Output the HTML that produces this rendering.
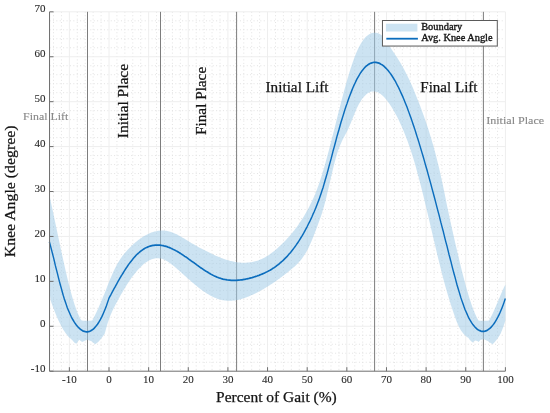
<!DOCTYPE html>
<html><head><meta charset="utf-8"><title>Knee Angle</title>
<style>html,body{margin:0;padding:0;background:#fff}body{width:550px;height:413px;overflow:hidden}</style></head>
<body>
<svg width="550" height="413" viewBox="0 0 550 413" style="display:block;font-family:'Liberation Serif',serif">
<rect width="550" height="413" fill="#fff"/>
<path d="M53.50,11.84V371.20M61.43,11.84V371.20M77.29,11.84V371.20M85.22,11.84V371.20M93.14,11.84V371.20M101.07,11.84V371.20M116.93,11.84V371.20M124.86,11.84V371.20M132.78,11.84V371.20M140.71,11.84V371.20M156.57,11.84V371.20M164.50,11.84V371.20M172.42,11.84V371.20M180.35,11.84V371.20M196.21,11.84V371.20M204.14,11.84V371.20M212.06,11.84V371.20M219.99,11.84V371.20M235.85,11.84V371.20M243.78,11.84V371.20M251.70,11.84V371.20M259.63,11.84V371.20M275.49,11.84V371.20M283.42,11.84V371.20M291.34,11.84V371.20M299.27,11.84V371.20M315.13,11.84V371.20M323.06,11.84V371.20M330.98,11.84V371.20M338.91,11.84V371.20M354.77,11.84V371.20M362.70,11.84V371.20M370.62,11.84V371.20M378.55,11.84V371.20M394.41,11.84V371.20M402.34,11.84V371.20M410.26,11.84V371.20M418.19,11.84V371.20M434.05,11.84V371.20M441.98,11.84V371.20M449.90,11.84V371.20M457.83,11.84V371.20M473.69,11.84V371.20M481.62,11.84V371.20M489.54,11.84V371.20M497.47,11.84V371.20M49.54,362.22H505.40M49.54,353.23H505.40M49.54,344.25H505.40M49.54,335.26H505.40M49.54,317.30H505.40M49.54,308.31H505.40M49.54,299.33H505.40M49.54,290.34H505.40M49.54,272.38H505.40M49.54,263.39H505.40M49.54,254.41H505.40M49.54,245.42H505.40M49.54,227.46H505.40M49.54,218.47H505.40M49.54,209.49H505.40M49.54,200.50H505.40M49.54,182.54H505.40M49.54,173.55H505.40M49.54,164.57H505.40M49.54,155.58H505.40M49.54,137.62H505.40M49.54,128.63H505.40M49.54,119.65H505.40M49.54,110.66H505.40M49.54,92.70H505.40M49.54,83.71H505.40M49.54,74.73H505.40M49.54,65.74H505.40M49.54,47.78H505.40M49.54,38.79H505.40M49.54,29.81H505.40M49.54,20.82H505.40" stroke="#e2e2e2" stroke-width="1" stroke-dasharray="1 2.4" fill="none"/>
<path d="M69.36,11.84V371.20M109.00,11.84V371.20M148.64,11.84V371.20M188.28,11.84V371.20M227.92,11.84V371.20M267.56,11.84V371.20M307.20,11.84V371.20M346.84,11.84V371.20M386.48,11.84V371.20M426.12,11.84V371.20M465.76,11.84V371.20M505.40,11.84V371.20M49.54,326.28H505.40M49.54,281.36H505.40M49.54,236.44H505.40M49.54,191.52H505.40M49.54,146.60H505.40M49.54,101.68H505.40M49.54,56.76H505.40M49.54,11.84H505.40" stroke="#eeeeee" stroke-width="1" fill="none"/>
<line x1="87.50" y1="11.84" x2="87.50" y2="371.20" stroke="#7d7d7d" stroke-width="1"/>
<line x1="160.50" y1="11.84" x2="160.50" y2="371.20" stroke="#7d7d7d" stroke-width="1"/>
<line x1="236.60" y1="11.84" x2="236.60" y2="371.20" stroke="#7d7d7d" stroke-width="1"/>
<line x1="374.60" y1="11.84" x2="374.60" y2="371.20" stroke="#7d7d7d" stroke-width="1"/>
<line x1="483.40" y1="11.84" x2="483.40" y2="371.20" stroke="#7d7d7d" stroke-width="1"/>
<polygon points="49.4,195.3 50.4,199.8 51.4,204.4 52.4,209.0 53.4,213.7 54.4,218.4 55.4,223.2 56.4,227.9 57.4,232.7 58.4,237.5 59.4,242.2 60.4,246.9 61.4,251.6 62.4,256.2 63.4,260.8 64.4,265.3 65.4,269.7 66.4,274.0 67.4,278.3 68.4,282.4 69.4,286.3 70.4,290.2 71.4,293.9 72.4,297.4 73.4,300.8 74.4,304.0 75.4,307.0 76.4,309.8 77.4,312.3 78.4,314.7 79.4,316.8 80.4,318.7 81.3,320.2 83.0,320.8 90.5,320.8 92.2,320.6 92.2,320.6 93.2,318.7 94.2,316.8 95.2,314.8 96.2,312.7 97.2,310.6 98.2,308.4 99.2,306.1 100.2,303.8 101.2,301.5 102.2,299.1 103.2,296.6 104.2,294.2 105.2,291.7 106.2,289.2 107.2,286.6 108.2,284.1 109.2,281.6 110.2,279.1 111.2,276.7 112.2,274.4 113.2,272.1 114.2,270.0 115.2,267.9 116.2,266.0 117.2,264.1 118.2,262.4 119.2,260.7 120.2,259.2 121.2,257.7 122.2,256.3 123.2,255.0 124.2,253.7 125.2,252.5 126.2,251.4 127.2,250.3 128.2,249.2 129.2,248.2 130.2,247.2 131.2,246.2 132.2,245.3 133.2,244.3 134.2,243.4 135.2,242.6 136.2,241.7 137.2,240.9 138.2,240.1 139.2,239.4 140.2,238.6 141.2,237.9 142.2,237.3 143.2,236.6 144.2,236.0 145.2,235.4 146.2,234.9 147.2,234.4 148.2,233.9 149.2,233.4 150.2,233.0 151.2,232.6 152.2,232.3 153.2,231.9 154.2,231.6 155.2,231.4 156.2,231.2 157.2,231.0 158.2,230.8 159.2,230.7 160.2,230.6 161.2,230.5 162.2,230.5 163.2,230.5 164.2,230.6 165.2,230.7 166.2,230.8 167.2,231.0 168.2,231.2 169.2,231.4 170.2,231.7 171.2,232.1 172.2,232.4 173.2,232.8 174.2,233.2 175.2,233.7 176.2,234.1 177.2,234.6 178.2,235.2 179.2,235.7 180.2,236.3 181.2,236.8 182.2,237.4 183.2,238.0 184.2,238.6 185.2,239.2 186.2,239.8 187.2,240.4 188.2,241.0 189.2,241.7 190.2,242.3 191.2,242.9 192.2,243.4 193.2,244.0 194.2,244.6 195.2,245.2 196.2,245.8 197.2,246.3 198.2,246.9 199.2,247.4 200.2,248.0 201.2,248.5 202.2,249.0 203.2,249.6 204.2,250.1 205.2,250.6 206.2,251.1 207.2,251.6 208.2,252.1 209.2,252.6 210.2,253.1 211.2,253.6 212.2,254.1 213.2,254.5 214.2,255.0 215.2,255.4 216.2,255.9 217.2,256.3 218.2,256.7 219.2,257.1 220.2,257.5 221.2,257.9 222.2,258.3 223.2,258.7 224.2,259.0 225.2,259.4 226.2,259.7 227.2,260.0 228.2,260.3 229.2,260.6 230.2,260.9 231.2,261.1 232.2,261.3 233.2,261.6 234.2,261.8 235.2,262.0 236.2,262.1 237.2,262.3 238.2,262.4 239.2,262.5 240.2,262.6 241.2,262.7 242.2,262.7 243.2,262.7 244.2,262.8 245.2,262.7 246.2,262.7 247.2,262.6 248.2,262.6 249.2,262.5 250.2,262.3 251.2,262.2 252.2,262.0 253.2,261.8 254.2,261.6 255.2,261.3 256.2,261.0 257.2,260.7 258.2,260.4 259.2,260.0 260.2,259.6 261.2,259.2 262.2,258.7 263.2,258.2 264.2,257.7 265.2,257.2 266.2,256.6 267.2,256.0 268.2,255.4 269.2,254.7 270.2,254.0 271.2,253.3 272.2,252.6 273.2,251.8 274.2,251.0 275.2,250.2 276.2,249.3 277.2,248.4 278.2,247.5 279.2,246.6 280.2,245.7 281.2,244.7 282.2,243.8 283.2,242.8 284.2,241.8 285.2,240.7 286.2,239.7 287.2,238.6 288.2,237.5 289.2,236.4 290.2,235.3 291.2,234.1 292.2,232.9 293.2,231.6 294.2,230.4 295.2,229.1 296.2,227.8 297.2,226.4 298.2,225.0 299.2,223.5 300.2,222.1 301.2,220.5 302.2,219.0 303.2,217.4 304.2,215.7 305.2,214.0 306.2,212.3 307.2,210.5 308.2,208.7 309.2,206.8 310.2,204.8 311.2,202.8 312.2,200.7 313.2,198.5 314.2,196.2 315.2,193.9 316.2,191.4 317.2,188.8 318.2,186.0 319.2,183.2 320.2,180.2 321.2,177.1 322.2,173.9 323.2,170.6 324.2,167.2 325.2,163.7 326.2,160.1 327.2,156.4 328.2,152.7 329.2,148.9 330.2,145.1 331.2,141.2 332.2,137.3 333.2,133.4 334.2,129.4 335.2,125.5 336.2,121.5 337.2,117.5 338.2,113.6 339.2,109.7 340.2,105.8 341.2,101.9 342.2,98.1 343.2,94.3 344.2,90.6 345.2,86.9 346.2,83.3 347.2,79.8 348.2,76.4 349.2,73.1 350.2,69.8 351.2,66.7 352.2,63.7 353.2,60.9 354.2,58.1 355.2,55.5 356.2,53.1 357.2,50.8 358.2,48.6 359.2,46.6 360.2,44.8 361.2,43.1 362.2,41.5 363.2,40.1 364.2,38.8 365.2,37.6 366.2,36.6 367.2,35.7 368.2,34.9 369.2,34.3 370.2,33.7 371.2,33.3 372.2,33.0 373.2,32.8 374.2,32.7 375.2,32.7 376.2,32.8 377.2,33.0 378.2,33.3 379.2,33.7 380.2,34.2 381.2,34.9 382.2,35.8 383.2,36.7 384.2,37.9 385.2,39.2 386.2,40.7 387.2,42.3 388.2,43.9 389.2,45.6 390.2,47.2 391.2,48.7 392.2,50.2 393.2,51.7 394.2,53.2 395.2,54.7 396.2,56.2 397.2,57.7 398.2,59.3 399.2,60.9 400.2,62.5 401.2,64.2 402.2,65.9 403.2,67.7 404.2,69.6 405.2,71.5 406.2,73.4 407.2,75.4 408.2,77.5 409.2,79.6 410.2,81.8 411.2,84.0 412.2,86.3 413.2,88.6 414.2,91.0 415.2,93.4 416.2,95.9 417.2,98.4 418.2,100.9 419.2,103.5 420.2,106.1 421.2,108.8 422.2,111.5 423.2,114.2 424.2,117.0 425.2,119.9 426.2,122.8 427.2,125.8 428.2,128.8 429.2,132.0 430.2,135.2 431.2,138.5 432.2,141.9 433.2,145.3 434.2,148.9 435.2,152.6 436.2,156.4 437.2,160.4 438.2,164.4 439.2,168.6 440.2,172.9 441.2,177.4 442.2,182.0 443.2,186.8 444.2,191.6 445.2,196.6 446.2,201.5 447.2,206.4 448.2,211.1 449.2,215.8 450.2,220.4 451.2,225.0 452.2,229.5 453.2,233.9 454.2,238.3 455.2,242.7 456.2,247.0 457.2,251.3 458.2,255.6 459.2,259.8 460.2,263.9 461.2,268.0 462.2,272.0 463.2,276.0 464.2,279.8 465.2,283.5 466.2,287.2 467.2,290.7 468.2,294.1 469.2,297.4 470.2,300.5 471.2,303.6 472.2,306.4 473.2,309.1 474.2,311.7 475.2,314.0 476.2,316.2 477.2,318.2 478.2,320.0 478.5,320.5 480.0,320.8 487.5,320.8 488.8,320.5 488.8,320.5 489.8,318.9 490.8,317.2 491.8,315.3 492.8,313.2 493.8,311.1 494.8,308.8 495.8,306.5 496.8,304.1 497.8,301.7 498.8,299.3 499.8,296.9 500.8,294.5 501.8,292.2 502.8,289.9 503.8,287.8 504.8,285.7 505.4,284.5 505.4,320.2 504.6,322.9 503.0,327.8 500.8,333.3 498.6,337.1 497.0,339.3 494.8,342.0 492.6,344.2 489.9,342.5 487.7,340.9 483.9,339.3 480.6,339.8 478.5,342.0 477.4,340.9 475.2,340.4 472.5,342.5 469.7,339.8 468.1,337.6 467.7,337.4 466.7,336.7 465.7,336.0 464.7,335.1 463.7,334.0 462.7,332.8 461.7,331.5 460.7,329.9 459.7,328.2 458.7,326.3 457.7,324.1 456.7,321.7 455.7,319.1 454.7,316.3 453.7,313.3 452.7,310.3 451.7,307.3 450.7,304.2 449.7,301.0 448.7,297.8 447.7,294.5 446.7,291.1 445.7,287.6 444.7,284.0 443.7,280.3 442.7,276.5 441.7,272.6 440.7,268.6 439.7,264.6 438.7,260.5 437.7,256.4 436.7,252.2 435.7,248.0 434.7,243.8 433.7,239.5 432.7,235.3 431.7,231.0 430.7,226.7 429.7,222.5 428.7,218.2 427.7,214.0 426.7,209.8 425.7,205.6 424.7,201.4 423.7,197.3 422.7,193.3 421.7,189.3 420.7,185.3 419.7,181.4 418.7,177.6 417.7,173.9 416.7,170.2 415.7,166.6 414.7,163.1 413.7,159.8 412.7,156.5 411.7,153.3 410.7,150.2 409.7,147.3 408.7,144.4 407.7,141.6 406.7,138.9 405.7,136.2 404.7,133.7 403.7,131.3 402.7,128.9 401.7,126.6 400.7,124.4 399.7,122.2 398.7,120.1 397.7,118.1 396.7,116.1 395.7,114.2 394.7,112.4 393.7,110.6 392.7,108.9 391.7,107.3 390.7,105.7 389.7,104.2 388.7,102.7 387.7,101.4 386.7,100.1 385.7,98.9 384.7,97.7 383.7,96.7 382.7,95.7 381.7,94.9 380.7,94.1 379.7,93.4 378.7,92.8 377.7,92.3 376.7,91.9 375.7,91.7 374.7,91.5 373.7,91.4 372.7,91.4 371.7,91.6 370.7,91.8 369.7,92.2 368.7,92.7 367.7,93.3 366.7,94.0 365.7,94.9 364.7,95.9 363.7,97.0 362.7,98.3 361.7,99.6 360.7,101.2 359.7,102.8 358.7,104.6 357.7,106.5 356.7,108.6 355.7,110.9 354.7,113.2 353.7,115.7 352.7,118.2 351.7,120.7 350.7,123.2 349.7,125.6 348.7,127.8 347.7,130.0 346.7,132.0 345.7,133.9 344.7,135.8 343.7,137.7 342.7,139.6 341.7,141.7 340.7,143.9 339.7,146.3 338.7,148.9 337.7,151.8 336.7,155.0 335.7,158.5 334.7,162.2 333.7,166.1 332.7,170.2 331.7,174.4 330.7,178.7 329.7,183.0 328.7,187.4 327.7,191.6 326.7,195.8 325.7,199.9 324.7,203.8 323.7,207.4 322.7,210.8 321.7,214.0 320.7,217.0 319.7,219.8 318.7,222.5 317.7,225.2 316.7,227.9 315.7,230.5 314.7,233.2 313.7,235.8 312.7,238.3 311.7,240.7 310.7,243.1 309.7,245.3 308.7,247.4 307.7,249.4 306.7,251.3 305.7,253.0 304.7,254.6 303.7,256.1 302.7,257.6 301.7,258.9 300.7,260.2 299.7,261.3 298.7,262.4 297.7,263.5 296.7,264.5 295.7,265.5 294.7,266.4 293.7,267.2 292.7,268.1 291.7,268.9 290.7,269.8 289.7,270.6 288.7,271.4 287.7,272.2 286.7,273.0 285.7,273.8 284.7,274.6 283.7,275.4 282.7,276.1 281.7,276.9 280.7,277.6 279.7,278.4 278.7,279.1 277.7,279.8 276.7,280.5 275.7,281.2 274.7,281.9 273.7,282.6 272.7,283.3 271.7,283.9 270.7,284.6 269.7,285.2 268.7,285.8 267.7,286.5 266.7,287.1 265.7,287.7 264.7,288.3 263.7,288.9 262.7,289.4 261.7,290.0 260.7,290.6 259.7,291.1 258.7,291.7 257.7,292.2 256.7,292.7 255.7,293.2 254.7,293.7 253.7,294.2 252.7,294.7 251.7,295.1 250.7,295.6 249.7,296.0 248.7,296.4 247.7,296.8 246.7,297.2 245.7,297.6 244.7,297.9 243.7,298.3 242.7,298.6 241.7,298.9 240.7,299.2 239.7,299.4 238.7,299.7 237.7,299.9 236.7,300.1 235.7,300.2 234.7,300.4 233.7,300.5 232.7,300.6 231.7,300.7 230.7,300.7 229.7,300.8 228.7,300.8 227.7,300.7 226.7,300.7 225.7,300.6 224.7,300.5 223.7,300.3 222.7,300.2 221.7,300.0 220.7,299.7 219.7,299.5 218.7,299.2 217.7,298.9 216.7,298.5 215.7,298.1 214.7,297.7 213.7,297.3 212.7,296.8 211.7,296.3 210.7,295.8 209.7,295.2 208.7,294.6 207.7,294.0 206.7,293.4 205.7,292.7 204.7,292.1 203.7,291.4 202.7,290.7 201.7,289.9 200.7,289.2 199.7,288.4 198.7,287.7 197.7,286.9 196.7,286.1 195.7,285.3 194.7,284.4 193.7,283.6 192.7,282.7 191.7,281.9 190.7,281.0 189.7,280.1 188.7,279.3 187.7,278.4 186.7,277.5 185.7,276.6 184.7,275.7 183.7,274.8 182.7,273.9 181.7,273.0 180.7,272.1 179.7,271.2 178.7,270.3 177.7,269.4 176.7,268.5 175.7,267.7 174.7,266.8 173.7,266.0 172.7,265.2 171.7,264.4 170.7,263.7 169.7,262.9 168.7,262.3 167.7,261.6 166.7,261.0 165.7,260.5 164.7,260.0 163.7,259.5 162.7,259.1 161.7,258.8 160.7,258.6 159.7,258.4 158.7,258.2 157.7,258.2 156.7,258.2 155.7,258.3 154.7,258.4 153.7,258.7 152.7,258.9 151.7,259.3 150.7,259.7 149.7,260.1 148.7,260.7 147.7,261.3 146.7,261.9 145.7,262.6 144.7,263.3 143.7,264.1 142.7,265.0 141.7,265.9 140.7,266.9 139.7,267.9 138.7,268.9 137.7,270.1 136.7,271.2 135.7,272.4 134.7,273.7 133.7,274.9 132.7,276.3 131.7,277.6 130.7,279.0 129.7,280.5 128.7,282.0 127.7,283.5 126.7,285.1 125.7,286.7 124.7,288.3 123.7,290.0 122.7,291.7 121.7,293.4 120.7,295.1 119.7,296.9 118.7,298.7 117.7,300.6 116.7,302.4 115.7,304.3 114.7,306.3 113.7,308.2 112.7,310.3 111.7,312.5 110.7,314.8 109.7,317.3 108.7,320.1 107.7,323.0 106.7,326.3 105.7,329.9 104.7,333.8 104.7,333.8 101.5,338.2 98.2,342.0 95.2,344.2 91.5,341.3 87.2,339.8 82.1,342.0 79.2,339.8 76.3,343.8 74.2,342.5 72.0,339.8 71.5,339.4 70.5,338.6 69.5,337.7 68.5,336.7 67.5,335.5 66.5,334.3 65.5,332.9 64.5,331.5 63.5,329.9 62.5,328.2 61.5,326.5 60.5,324.6 59.5,322.6 58.5,320.5 57.5,318.3 56.5,316.0 55.5,313.6 54.5,311.1 53.5,308.4 52.5,305.7 51.5,302.9 50.5,300.0 50.5,300.0 49.4,290.5" fill="#9fcae6" fill-opacity="0.53"/>
<g transform="scale(0.8,1)"><polyline points="61.7,241.7 63.0,245.5 64.2,249.3 65.5,253.3 66.8,257.3 68.0,261.3 69.2,265.4 70.5,269.4 71.8,273.5 73.0,277.4 74.2,281.3 75.5,285.1 76.8,288.8 78.0,292.4 79.2,295.8 80.5,299.1 81.8,302.1 83.0,305.0 84.2,307.8 85.5,310.3 86.8,312.7 88.0,314.9 89.2,316.9 90.5,318.9 91.8,320.6 93.0,322.2 94.2,323.7 95.5,325.1 96.8,326.3 98.0,327.4 99.2,328.3 100.5,329.2 101.8,329.9 103.0,330.6 104.2,331.1 105.5,331.4 106.8,331.7 108.0,331.8 109.2,331.8 110.5,331.6 111.8,331.4 113.0,331.0 114.2,330.4 115.5,329.8 116.8,329.0 118.0,328.0 119.2,326.9 120.5,325.7 121.8,324.4 123.0,322.9 124.2,321.3 125.5,319.5 126.8,317.6 128.0,315.5 129.2,313.3 130.5,310.9 131.8,308.4 133.0,305.8 134.2,303.0 135.5,300.0 136.2,298.2 136.2,298.2 137.5,296.3 138.8,294.4 140.0,292.5 141.2,290.7 142.5,288.8 143.8,287.0 145.0,285.2 146.2,283.4 147.5,281.6 148.8,279.8 150.0,278.1 151.2,276.4 152.5,274.8 153.8,273.1 155.0,271.5 156.2,269.9 157.5,268.4 158.8,266.9 160.0,265.4 161.2,264.0 162.5,262.7 163.8,261.3 165.0,260.1 166.2,258.8 167.5,257.6 168.8,256.5 170.0,255.4 171.2,254.4 172.5,253.5 173.8,252.6 175.0,251.7 176.2,250.9 177.5,250.2 178.8,249.5 180.0,248.9 181.2,248.3 182.5,247.8 183.8,247.3 185.0,246.9 186.2,246.5 187.5,246.2 188.8,245.9 190.0,245.6 191.2,245.4 192.5,245.3 193.8,245.2 195.0,245.1 196.2,245.1 197.5,245.1 198.8,245.1 200.0,245.2 201.2,245.3 202.5,245.5 203.8,245.6 205.0,245.9 206.2,246.1 207.5,246.4 208.8,246.7 210.0,247.1 211.2,247.4 212.5,247.8 213.8,248.3 215.0,248.7 216.2,249.2 217.5,249.7 218.8,250.2 220.0,250.8 221.2,251.3 222.5,251.9 223.8,252.5 225.0,253.1 226.2,253.8 227.5,254.4 228.8,255.1 230.0,255.7 231.2,256.4 232.5,257.1 233.8,257.8 235.0,258.5 236.2,259.2 237.5,259.9 238.8,260.7 240.0,261.4 241.2,262.1 242.5,262.8 243.8,263.6 245.0,264.3 246.2,265.0 247.5,265.7 248.8,266.5 250.0,267.2 251.2,267.9 252.5,268.5 253.8,269.2 255.0,269.9 256.2,270.6 257.5,271.2 258.8,271.8 260.0,272.4 261.2,273.0 262.5,273.6 263.8,274.2 265.0,274.7 266.2,275.3 267.5,275.8 268.8,276.2 270.0,276.7 271.2,277.1 272.5,277.5 273.8,277.9 275.0,278.2 276.2,278.5 277.5,278.8 278.8,279.1 280.0,279.3 281.2,279.5 282.5,279.7 283.8,279.9 285.0,280.0 286.2,280.1 287.5,280.2 288.8,280.3 290.0,280.4 291.2,280.4 292.5,280.4 293.8,280.4 295.0,280.3 296.2,280.3 297.5,280.2 298.8,280.1 300.0,280.0 301.2,279.9 302.5,279.8 303.8,279.6 305.0,279.4 306.2,279.3 307.5,279.0 308.8,278.8 310.0,278.6 311.2,278.4 312.5,278.1 313.8,277.8 315.0,277.6 316.2,277.3 317.5,277.0 318.8,276.7 320.0,276.3 321.2,276.0 322.5,275.6 323.8,275.3 325.0,274.9 326.2,274.5 327.5,274.1 328.8,273.7 330.0,273.2 331.2,272.8 332.5,272.3 333.8,271.8 335.0,271.3 336.2,270.7 337.5,270.2 338.8,269.6 340.0,269.0 341.2,268.3 342.5,267.7 343.8,267.0 345.0,266.3 346.2,265.5 347.5,264.8 348.8,264.0 350.0,263.1 351.2,262.3 352.5,261.4 353.8,260.5 355.0,259.5 356.2,258.5 357.5,257.5 358.8,256.5 360.0,255.4 361.2,254.2 362.5,253.1 363.8,251.9 365.0,250.6 366.2,249.4 367.5,248.0 368.8,246.7 370.0,245.3 371.2,243.8 372.5,242.4 373.8,240.8 375.0,239.2 376.2,237.6 377.5,236.0 378.8,234.2 380.0,232.5 381.2,230.7 382.5,228.8 383.8,226.9 385.0,224.9 386.2,222.9 387.5,220.9 388.8,218.7 390.0,216.6 391.2,214.3 392.5,212.1 393.8,209.7 395.0,207.3 396.2,204.8 397.5,202.2 398.8,199.5 400.0,196.7 401.2,193.8 402.5,190.7 403.8,187.6 405.0,184.3 406.2,180.9 407.5,177.4 408.8,173.8 410.0,170.2 411.2,166.5 412.5,162.8 413.8,159.0 415.0,155.2 416.2,151.4 417.5,147.7 418.8,143.9 420.0,140.2 421.2,136.5 422.5,132.9 423.8,129.4 425.0,125.9 426.2,122.4 427.5,119.1 428.8,115.8 430.0,112.6 431.2,109.5 432.5,106.4 433.8,103.5 435.0,100.6 436.2,97.8 437.5,95.1 438.8,92.5 440.0,90.0 441.2,87.6 442.5,85.3 443.8,83.1 445.0,81.0 446.2,79.0 447.5,77.2 448.8,75.4 450.0,73.8 451.2,72.3 452.5,70.9 453.8,69.6 455.0,68.4 456.2,67.3 457.5,66.3 458.8,65.5 460.0,64.7 461.2,64.1 462.5,63.5 463.8,63.1 465.0,62.8 466.2,62.5 467.5,62.4 468.8,62.4 470.0,62.4 471.2,62.6 472.5,62.8 473.8,63.2 475.0,63.6 476.2,64.2 477.5,64.8 478.8,65.5 480.0,66.3 481.2,67.2 482.5,68.2 483.8,69.3 485.0,70.4 486.2,71.7 487.5,73.0 488.8,74.4 490.0,75.9 491.2,77.4 492.5,79.1 493.8,80.8 495.0,82.6 496.2,84.5 497.5,86.4 498.8,88.5 500.0,90.6 501.2,92.7 502.5,95.0 503.8,97.3 505.0,99.7 506.2,102.1 507.5,104.6 508.8,107.2 510.0,109.8 511.2,112.5 512.5,115.3 513.8,118.1 515.0,121.0 516.2,123.9 517.5,126.9 518.8,130.0 520.0,133.1 521.2,136.2 522.5,139.4 523.8,142.7 525.0,146.0 526.2,149.3 527.5,152.7 528.8,156.1 530.0,159.5 531.2,163.0 532.5,166.6 533.8,170.1 535.0,173.7 536.2,177.3 537.5,181.0 538.8,184.7 540.0,188.4 541.2,192.1 542.5,195.9 543.8,199.7 545.0,203.5 546.2,207.3 547.5,211.2 548.8,215.0 550.0,218.9 551.2,222.8 552.5,226.7 553.8,230.6 555.0,234.5 556.2,238.4 557.5,242.4 558.8,246.3 560.0,250.2 561.2,254.2 562.5,258.1 563.8,262.0 565.0,265.9 566.2,269.7 567.5,273.6 568.8,277.3 570.0,281.0 571.2,284.6 572.5,288.1 573.8,291.5 575.0,294.8 576.2,298.0 577.5,301.0 578.8,303.9 580.0,306.7 581.2,309.3 582.5,311.7 583.8,314.0 585.0,316.2 586.2,318.2 587.5,320.0 588.8,321.7 590.0,323.3 591.2,324.7 592.5,325.9 593.8,327.1 595.0,328.1 596.2,328.9 597.5,329.7 598.8,330.3 600.0,330.7 601.2,331.1 602.5,331.3 603.8,331.4 605.0,331.3 606.2,331.2 607.5,330.8 608.8,330.4 610.0,329.8 611.2,329.1 612.5,328.3 613.8,327.3 615.0,326.2 616.2,325.0 617.5,323.6 618.8,322.1 620.0,320.4 621.2,318.7 622.5,316.8 623.8,314.7 625.0,312.6 626.2,310.3 627.5,307.8 628.8,305.2 630.0,302.5 631.2,299.7 631.7,298.5" fill="none" stroke="#0b6dbd" stroke-width="1.75" stroke-linejoin="round"/></g>
<path d="M49.54,11.84V371.20H505.40M69.36,371.20v-4M109.00,371.20v-4M148.64,371.20v-4M188.28,371.20v-4M227.92,371.20v-4M267.56,371.20v-4M307.20,371.20v-4M346.84,371.20v-4M386.48,371.20v-4M426.12,371.20v-4M465.76,371.20v-4M505.40,371.20v-4M49.54,371.20h4M49.54,326.28h4M49.54,281.36h4M49.54,236.44h4M49.54,191.52h4M49.54,146.60h4M49.54,101.68h4M49.54,56.76h4M49.54,11.84h4" stroke="#6e6e6e" stroke-width="1" fill="none"/>
<g font-size="11" fill="#2a2a2a" stroke="#2a2a2a" stroke-width="0.1">
<text x="69.4" y="383.2" text-anchor="middle">-10</text>
<text x="109.0" y="383.2" text-anchor="middle">0</text>
<text x="148.6" y="383.2" text-anchor="middle">10</text>
<text x="188.3" y="383.2" text-anchor="middle">20</text>
<text x="227.9" y="383.2" text-anchor="middle">30</text>
<text x="267.6" y="383.2" text-anchor="middle">40</text>
<text x="307.2" y="383.2" text-anchor="middle">50</text>
<text x="346.8" y="383.2" text-anchor="middle">60</text>
<text x="386.5" y="383.2" text-anchor="middle">70</text>
<text x="426.1" y="383.2" text-anchor="middle">80</text>
<text x="465.8" y="383.2" text-anchor="middle">90</text>
<text x="505.4" y="383.2" text-anchor="middle">100</text>
<text x="45.5" y="371.7" text-anchor="end">-10</text>
<text x="45.5" y="326.8" text-anchor="end">0</text>
<text x="45.5" y="281.9" text-anchor="end">10</text>
<text x="45.5" y="236.9" text-anchor="end">20</text>
<text x="45.5" y="192.0" text-anchor="end">30</text>
<text x="45.5" y="147.1" text-anchor="end">40</text>
<text x="45.5" y="102.2" text-anchor="end">50</text>
<text x="45.5" y="57.3" text-anchor="end">60</text>
<text x="45.5" y="12.3" text-anchor="end">70</text>
</g>
<text x="276.4" y="402" font-size="15" text-anchor="middle" textLength="120.7" lengthAdjust="spacingAndGlyphs" fill="#151515" stroke="#151515" stroke-width="0.25">Percent of Gait (%)</text>
<text transform="translate(15,191.4) rotate(-90)" font-size="15" text-anchor="middle" textLength="131.8" lengthAdjust="spacingAndGlyphs" fill="#151515" stroke="#151515" stroke-width="0.25">Knee Angle (degree)</text>
<text x="23.1" y="120.0" font-size="11.3" textLength="45.1" lengthAdjust="spacingAndGlyphs" fill="#868686" stroke="#868686" stroke-width="0.1">Final Lift</text>
<text x="486.2" y="123.5" font-size="11.3" textLength="58" lengthAdjust="spacingAndGlyphs" fill="#868686" stroke="#868686" stroke-width="0.1">Initial Place</text>
<text x="265.5" y="91.9" font-size="14.6" textLength="63" lengthAdjust="spacingAndGlyphs" fill="#151515" stroke="#151515" stroke-width="0.25">Initial Lift</text>
<text x="420.3" y="92.2" font-size="14.6" textLength="57.2" lengthAdjust="spacingAndGlyphs" fill="#151515" stroke="#151515" stroke-width="0.25">Final Lift</text>
<text transform="translate(128.2,101.1) rotate(-90)" font-size="14.6" text-anchor="middle" textLength="74.2" lengthAdjust="spacingAndGlyphs" fill="#151515" stroke="#151515" stroke-width="0.25">Initial Place</text>
<text transform="translate(206,100.9) rotate(-90)" font-size="14.6" text-anchor="middle" textLength="68.1" lengthAdjust="spacingAndGlyphs" fill="#151515" stroke="#151515" stroke-width="0.25">Final Place</text>
<rect x="382.45" y="20.5" width="114.85" height="25.55" fill="#fff" stroke="#5a5a5a" stroke-width="1"/>
<rect x="385.9" y="23.7" width="31.5" height="7.8" fill="#cce3f2"/>
<line x1="386.3" y1="38.7" x2="417.9" y2="38.7" stroke="#0b6dbd" stroke-width="1.8"/>
<text x="421.2" y="30.1" font-size="10" textLength="41" lengthAdjust="spacingAndGlyphs" fill="#151515" stroke="#151515" stroke-width="0.35">Boundary</text>
<text x="421.2" y="41.0" font-size="10" textLength="71.4" lengthAdjust="spacingAndGlyphs" fill="#151515" stroke="#151515" stroke-width="0.35">Avg. Knee Angle</text>
</svg>
</body></html>
